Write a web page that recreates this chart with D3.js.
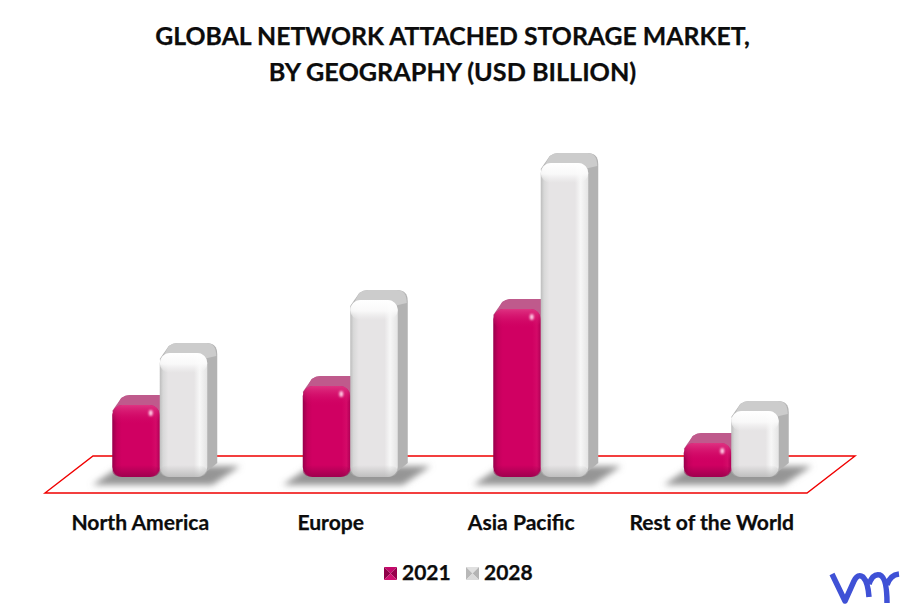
<!DOCTYPE html>
<html>
<head>
<meta charset="utf-8">
<script src="https://cdnjs.cloudflare.com/ajax/libs/d3/7.8.5/d3.min.js"></script>
<style>
  html, body { margin: 0; padding: 0; background: #fff; }
  svg { display: block; }
  text { font-family: Lato, "Open Sans", sans-serif; font-weight: 700; fill: #0c0c0c; stroke: #0c0c0c; stroke-width: 0.25px; }
</style>
</head>
<body>
<svg id="chart"></svg>
<script>
var categories = ["North America", "Europe", "Asia Pacific", "Rest of the World"];
var years = ["2021", "2028"];
var values2021 = [7.2, 9.1, 16.8, 3.4];
var values2028 = [12.4, 17.7, 31.4, 6.6];
var titleLines = ["GLOBAL NETWORK ATTACHED STORAGE MARKET,", "BY GEOGRAPHY (USD BILLION)"];

var w = 905, h = 607;
var planeLeft = 45, planeRight = 807, planeFront = 493, planeBack = 456;
var baseY = 477;
var depth = 10;
var shift = 20; // bars sit further back on the floor than the labels

var svg = d3.select("#chart").attr("width", w).attr("height", h);
var defs = svg.append("defs");

var xScale = d3.scaleBand().domain(categories).range([planeLeft, planeRight]);
var xInner = d3.scaleBand().domain(years).range([0, 95]);
var yScale = d3.scaleLinear().domain([0, 35]).range([baseY, 127]);

function gradient(id, x2, y2, stops) {
  var g = defs.append("linearGradient").attr("id", id)
    .attr("x1", 0).attr("y1", 0).attr("x2", x2).attr("y2", y2);
  stops.forEach(function(s) {
    g.append("stop").attr("offset", s[0]).attr("stop-color", s[1]).attr("stop-opacity", s[2] === undefined ? 1 : s[2]);
  });
}

gradient("pinkH", 1, 0, [[0, "#98004c"], [0.1, "#c4005c"], [0.2, "#d00062"], [0.82, "#d00062"], [0.92, "#d40a68"], [1, "#b00056"]]);
gradient("grayH", 1, 0, [[0, "#bdbdbd"], [0.07, "#d8d8d8"], [0.18, "#e6e4e5"], [0.72, "#e6e4e5"], [0.84, "#f7f7f7"], [1, "#e4e4e4"]]);
gradient("pinkTop", 0, 1, [[0, "#e2408a", 0.8], [1, "#d00062", 0]]);
gradient("grayTop", 0, 1, [[0, "#ffffff", 1], [0.55, "#fbfbfb", 0.9], [1, "#f4f4f4", 0]]);
gradient("pinkBottom", 0, 1, [[0, "#8f0048", 0], [1, "#8f0048", 0.75]]);
gradient("grayBottom", 0, 1, [[0, "#b5b5b5", 0], [1, "#b5b5b5", 0.8]]);

defs.append("filter").attr("id", "soft").attr("x", "-20%").attr("y", "-60%").attr("width", "140%").attr("height", "220%")
  .append("feGaussianBlur").attr("stdDeviation", 3);
defs.append("filter").attr("id", "spot").attr("x", "-100%").attr("y", "-100%").attr("width", "300%").attr("height", "300%")
  .append("feGaussianBlur").attr("stdDeviation", 0.9);

// title
svg.append("g").selectAll("text").data(titleLines).enter().append("text")
  .attr("x", 452.5)
  .attr("y", function(d, i) { return 45 + i * 36; })
  .attr("text-anchor", "middle")
  .attr("font-size", function(d, i) { return i ? 25.2 : 24.8; })
  .text(function(d) { return d; });

// floor
var plane = [[planeLeft, planeFront], [planeLeft + 48, planeBack], [planeRight + 48, planeBack], [planeRight, planeFront]];
svg.append("polygon")
  .attr("points", plane.join(" "))
  .attr("fill", "none")
  .attr("stroke", "#f00000")
  .attr("stroke-width", 1.4);

// group shadows on the floor
var groups = svg.append("g").selectAll("g").data(categories).enter().append("g")
  .attr("transform", function(d) { return "translate(" + (xScale(d) + xScale.bandwidth() / 2 - 48 + shift) + ",0)"; });

groups.append("polygon")
  .attr("points", "-20,485 8,466 128,466 100,485")
  .attr("fill", "#959595")
  .attr("filter", "url(#soft)");

var seriesData = function(cat, i) {
  return [
    { year: "2021", cat: cat, value: values2021[i] },
    { year: "2028", cat: cat, value: values2028[i] }
  ];
};

var bars = groups.selectAll("g.bar").data(seriesData).enter().append("g")
  .attr("class", "bar")
  .attr("transform", function(d) { return "translate(" + xInner(d.year) + ",0)"; });

bars.each(function(d) {
  var g = d3.select(this);
  var isPink = d.year === "2021";
  var bw = xInner.bandwidth();
  var top = yScale(d.value);
  var r = 10;

  // side and top faces behind the front face
  g.append("path")
    .attr("d", "M" + (bw - 6) + "," + (baseY - 1)
      + "L" + (bw + depth) + "," + (baseY - 14)
      + "L" + (bw + depth) + "," + (top - depth + 11)
      + "Q" + (bw + depth) + "," + (top - depth) + " " + (bw + depth - 11) + "," + (top - depth)
      + "L" + 18 + "," + (top - depth)
      + "Q" + 13 + "," + (top - depth) + " " + 9 + "," + (top - depth + 3)
      + "L" + 0 + "," + (top + 6) + "Z")
    .attr("fill", isPink ? "#bf5a8c" : "#b2b2b2");
  g.append("path")
    .attr("d", "M" + 4 + "," + (top + 2)
      + "L" + 9 + "," + (top - depth + 3)
      + "Q" + 13 + "," + (top - depth) + " " + 18 + "," + (top - depth)
      + "L" + (bw + depth - 11) + "," + (top - depth)
      + "Q" + (bw + depth - 1) + "," + (top - depth) + " " + (bw + depth - 1) + "," + (top + 3)
      + "L" + (bw - 4) + "," + (top + 6) + "Z")
    .attr("fill", isPink ? "#bf5a8c" : "#cccccc");

  // front face
  var front = function(y, height, fill) {
    g.append("rect")
      .attr("x", 0).attr("y", y)
      .attr("width", bw).attr("height", height)
      .attr("rx", r).attr("ry", r)
      .attr("fill", fill);
  };
  var fh = baseY - top;
  front(top, fh, isPink ? "url(#pinkH)" : "url(#grayH)");
  front(top, Math.min(20, fh), isPink ? "url(#pinkTop)" : "url(#grayTop)");
  front(baseY - Math.min(12, fh), Math.min(12, fh), isPink ? "url(#pinkBottom)" : "url(#grayBottom)");

  if (isPink) {
    g.append("ellipse")
      .attr("cx", bw - 9).attr("cy", top + 8)
      .attr("rx", 2).attr("ry", 3)
      .attr("fill", "#ffd0e6")
      .attr("filter", "url(#spot)");
  }
});

// category labels
svg.append("g").selectAll("text").data(categories).enter().append("text")
  .attr("x", function(d) { return xScale(d) + xScale.bandwidth() / 2; })
  .attr("y", 530)
  .attr("text-anchor", "middle")
  .attr("font-size", 21.1)
  .text(function(d) { return d; });

// legend
var legendX = d3.scaleOrdinal().domain(years).range([384, 466]);
var legend = svg.append("g").selectAll("g").data(years).enter().append("g")
  .attr("transform", function(d) { return "translate(" + legendX(d) + ",567)"; });

legend.each(function(d) {
  var g = d3.select(this);
  var isPink = d === "2021";
  var s = 13;
  var c = s / 2;
  var faces = [
    { p: [[0, 0], [s, 0], [c, c]], fill: isPink ? "#c4086a" : "#e0e0e0" },
    { p: [[0, 0], [0, s], [c, c]], fill: isPink ? "#8f0048" : "#b8b8b8" },
    { p: [[s, 0], [s, s], [c, c]], fill: isPink ? "#98004c" : "#b4b4b4" },
    { p: [[0, s], [s, s], [c, c]], fill: isPink ? "#d01070" : "#dadada" }
  ];
  faces.forEach(function(f) {
    g.append("polygon").attr("points", f.p.join(" ")).attr("fill", f.fill);
  });
});

legend.append("text")
  .attr("x", 18)
  .attr("y", 13)
  .attr("font-size", 21)
  .text(function(d) { return d; });

// logo
svg.append("path")
  .attr("d", "M832,574 L845,601 L854,581 Q858,573 863,577 Q868,582 869,597 M869,584 Q873,573 880,575 Q887,578 887,603 M887,585 Q890,575 899,574")
  .attr("fill", "none")
  .attr("stroke", "#3f51d6")
  .attr("stroke-width", 5.5)
  .attr("stroke-linejoin", "round");
</script>
</body>
</html>
